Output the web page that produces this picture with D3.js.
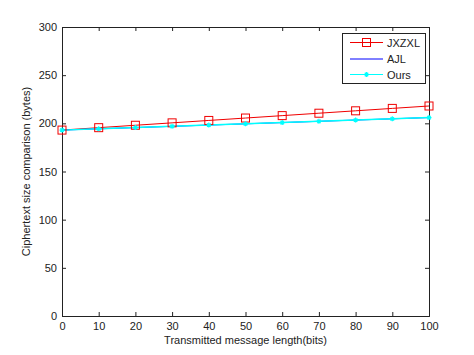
<!DOCTYPE html>
<html><head><meta charset="utf-8">
<script src="https://cdn.jsdelivr.net/npm/d3@7"></script>
<style>body{margin:0;background:#fff}svg{display:block}text{font-family:"Liberation Sans",Arial,sans-serif;fill:#222}</style>
</head><body>
<svg id="c" width="474" height="355"></svg>
<script>
const xValues = [0,10,20,30,40,50,60,70,80,90,100];
const jxzxl = [193,195.5,198,200.5,203,205.5,208,210.5,213,215.5,218];
const ajl   = [193,194.3,195.6,196.9,198.2,199.5,200.8,202.1,203.4,204.7,206];
const ours  = [193,194.3,195.6,196.9,198.2,199.5,200.8,202.1,203.4,204.7,206];
const xTicks = [0,10,20,30,40,50,60,70,80,90,100];
const yTicks = [0,50,100,150,200,250,300];
const seriesNames = ["JXZXL","AJL","Ours"];

const svg = d3.select("#c");
const L=62, R=429, T=27, B=316;
const x = d3.scaleLinear().domain([0,100]).range([L,R]);
const y = d3.scaleLinear().domain([0,300]).range([B,T]);
const fs = 11;

// axes
const ax = svg.append("g");
ax.append("g").attr("transform",`translate(0,${B})`)
  .call(d3.axisBottom(x).tickValues(xTicks).tickSize(-4).tickPadding(6).tickFormat(d3.format("d")));
ax.append("g").attr("transform",`translate(0,${T})`)
  .call(d3.axisTop(x).tickValues(xTicks).tickSize(-4).tickFormat(""));
ax.append("g").attr("transform",`translate(${L},0)`)
  .call(d3.axisLeft(y).tickValues(yTicks).tickSize(-4).tickPadding(5).tickFormat(d3.format("d")));
ax.append("g").attr("transform",`translate(${R},0)`)
  .call(d3.axisRight(y).tickValues(yTicks).tickSize(-4).tickFormat(""));
ax.selectAll(".domain").attr("stroke","#222");
ax.selectAll(".tick line").attr("stroke","#222");
ax.selectAll("text").attr("font-size",fs).style("font-family","'Liberation Sans',Arial,sans-serif").attr("fill","#222");

const line = d3.line().x((d,i)=>x(xValues[i])).y(d=>y(d));
svg.append("path").datum(jxzxl).attr("d",line).attr("fill","none").attr("stroke","#f00000").attr("stroke-width",1);
svg.append("path").datum(ajl).attr("d",line).attr("fill","none").attr("stroke","#0000ff").attr("stroke-width",1);
svg.append("path").datum(ours).attr("d",line).attr("fill","none").attr("stroke","#00ffff").attr("stroke-width",1.4);

function square(g,cx,cy){g.append("rect").attr("x",cx-4).attr("y",cy-4).attr("width",8).attr("height",8).attr("fill","none").attr("stroke","#f00000").attr("stroke-width",1);}
function star(g,cx,cy){
  const s=2.5;
  g.append("path").attr("d",`M${cx-s},${cy}H${cx+s}M${cx},${cy-s}V${cy+s}M${cx-s*0.7},${cy-s*0.7}L${cx+s*0.7},${cy+s*0.7}M${cx-s*0.7},${cy+s*0.7}L${cx+s*0.7},${cy-s*0.7}`)
   .attr("stroke","#00ffff").attr("stroke-width",1.2);
}
const mk = svg.append("g");
jxzxl.forEach((v,i)=>square(mk,x(xValues[i]),y(v)));
ours.forEach((v,i)=>star(mk,x(xValues[i]),y(v)));

// legend
const lg = svg.append("g");
lg.append("rect").attr("x",342.5).attr("y",33.5).attr("width",83).attr("height",50).attr("fill","#fff").attr("stroke","#222");
const rows=[42.5,59,74.5], cols=["#f00000","#0000ff","#00ffff"];
seriesNames.forEach((n,i)=>{
  lg.append("line").attr("x1",350).attr("x2",383).attr("y1",rows[i]).attr("y2",rows[i]).attr("stroke",cols[i]);
  lg.append("text").attr("x",387).attr("y",rows[i]+4).attr("font-size",fs).text(n);
});
square(lg,366.5,rows[0]);
star(lg,366.5,rows[2]);

svg.append("text").attr("x",(L+R)/2).attr("y",344).attr("text-anchor","middle").attr("font-size",fs).text("Transmitted message length(bits)");
svg.append("text").attr("transform",`translate(30,${(T+B)/2}) rotate(-90)`).attr("text-anchor","middle").attr("font-size",fs).text("Ciphertext size comparison (bytes)");
</script>
</body></html>
